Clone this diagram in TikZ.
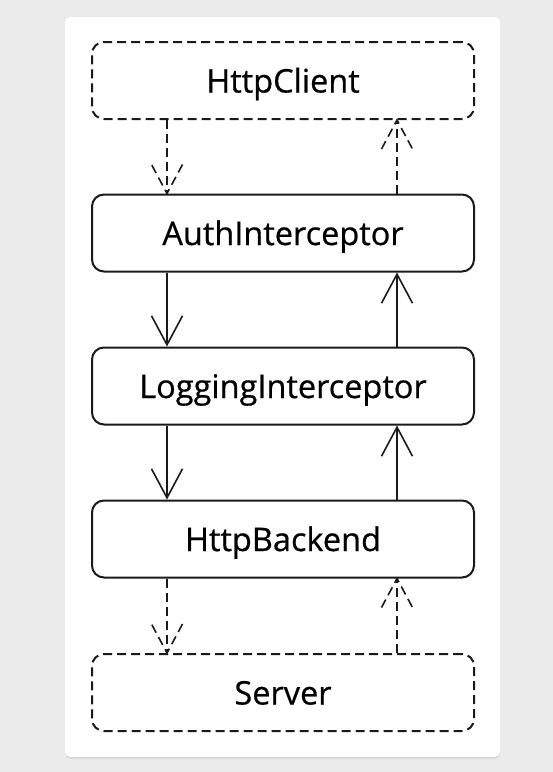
\documentclass[tikz,border=0pt]{standalone}
\usepackage{fontspec}
\setmainfont[FakeBold=0.6]{Open Sans}
\usetikzlibrary{arrows.meta,decorations.markings}
\definecolor{pagegray}{HTML}{EBEBEB}
\definecolor{linegray}{HTML}{1A1A1A}
\tikzset{
  stage/.style={draw=linegray, line width=2pt, rounded corners=12pt, fill=white,
    minimum width=382pt, minimum height=77pt, text=black,
    text height=26pt, text depth=2pt,
    font=\fontsize{32.5}{36}\selectfont},
  outer/.style={stage, dash pattern=on 9pt off 5pt},
  flow/.style={draw=linegray, line width=1.6pt,
    -{Straight Barb[length=29pt,width=31pt,line width=1.6pt]}},
  dflow/.style={draw=linegray, line width=1.6pt, dash pattern=on 9pt off 5pt,
    decoration={markings, mark=at position 1 with {
      \draw[line width=1.6pt, dash pattern=on 9pt off 5pt] (-29pt,15.5pt) -- (0,0) -- (-29pt,-15.5pt);}},
    postaction=decorate}
}
\begin{document}
\begin{tikzpicture}[x=1pt,y=-1pt]
  \useasboundingbox[fill=pagegray] (0,0) rectangle (553,772);
  % card with a light shadow
  \fill[black!18, rounded corners=5pt] (65,18.5) rectangle (500,758.5);
  \fill[white, rounded corners=5pt] (65,17) rectangle (500,757);

  \node[outer] (client) at (283,80.5) {HttpClient};
  \node[stage] (auth) at (283,233) {AuthInterceptor};
  \node[stage] (logging) at (283,386) {LoggingInterceptor};
  \node[stage] (backend) at (283,539) {HttpBackend};
  \node[outer] (server) at (283,692.5) {Server};

  % requests go down on the left
  \draw[dflow] ([xshift=-116pt]client.south) -- ([xshift=-116pt]auth.north);
  \draw[flow] ([xshift=-116pt]auth.south) -- ([xshift=-116pt]logging.north);
  \draw[flow] ([xshift=-116pt]logging.south) -- ([xshift=-116pt]backend.north);
  \draw[dflow] ([xshift=-116pt]backend.south) -- ([xshift=-116pt]server.north);
  % responses come back up on the right
  \draw[dflow] ([xshift=114pt]server.north) -- ([xshift=114pt]backend.south);
  \draw[flow] ([xshift=114pt]backend.north) -- ([xshift=114pt]logging.south);
  \draw[flow] ([xshift=114pt]logging.north) -- ([xshift=114pt]auth.south);
  \draw[dflow] ([xshift=114pt]auth.north) -- ([xshift=114pt]client.south);
\end{tikzpicture}
\end{document}
